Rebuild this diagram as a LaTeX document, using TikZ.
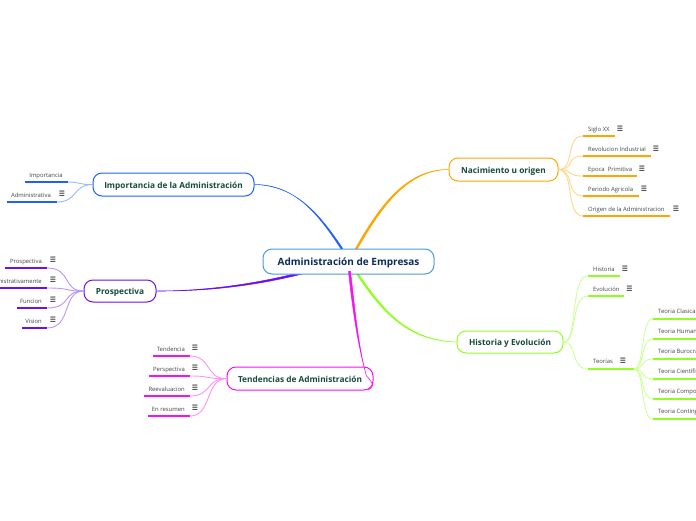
\documentclass[tikz,border=0pt]{standalone}
\usepackage{fontspec}
\usetikzlibrary{backgrounds}
\setmainfont{Open Sans}
\newfontfamily\symfont{DejaVu Sans}
\definecolor{cblue}{HTML}{1F5FFF}
\definecolor{corange}{HTML}{FFA500}
\definecolor{cgreen}{HTML}{90FF20}
\definecolor{cpurple}{HTML}{6A10F0}
\definecolor{cmag}{HTML}{F810F0}
\definecolor{croot}{HTML}{4A9BD9}
\definecolor{ctext}{HTML}{154A3C}
\definecolor{cnavy}{HTML}{0E2A5C}
\definecolor{cgrey}{HTML}{444444}
\tikzset{
 rootbox/.style={draw=#1,line width=1pt,rounded corners=9pt,fill=white,inner sep=0pt,align=center},
 centre/.style={rootbox=#1,text=cnavy,font=\fontsize{10}{12}\selectfont\bfseries},
 branch/.style={rootbox=#1,text=ctext,font=\fontsize{8.3}{10}\selectfont\bfseries},
 leaf/.style={text=cgrey,font=\fontsize{5.9}{7}\selectfont,inner sep=0pt},
 menu/.style={text=cgrey,font=\symfont\fontsize{8}{8}\selectfont,inner sep=0pt,yshift=-0.7pt},
 main/.style={draw=#1,fill=#1,line width=.5pt},
 twig/.style={draw=#1!45!white,line width=0.9pt},
 under/.style={draw=#1,line width=1.5pt},
 thickunder/.style={draw=#1,line width=2pt},
}
\newcommand{\boxnode}[8]{% style colour name x1 y1 x2 y2 text
 \node[#1=#2,minimum width=#6pt-#4pt,minimum height=#7pt-#5pt] (#3) at ({(#4+#6)/2},{(#5+#7)/2}) {\raisebox{-3.5pt}[0pt][0pt]{#8}};}
\newcommand{\menuicon}[3]{\node[menu] (#1) at (#2,#3) {\scalebox{1}[1.5]{≡}};}
% name colour x1 x2 y : underline
\newcommand{\uline}[5]{\coordinate (#1a) at (#3,#5);\coordinate (#1b) at (#4,#5);\draw[under=#2] (#1a) -- (#1b);}
\newcommand{\tline}[5]{\coordinate (#1a) at (#3,#5);\coordinate (#1b) at (#4,#5);\draw[thickunder=#2] (#1a) -- (#1b);}
\begin{document}
\begin{tikzpicture}[x=1pt,y=-1pt]
\useasboundingbox (0,0) rectangle (696,520);
% nodes
\boxnode{centre}{croot}{root}{263}{249}{434}{274}{Administración de Empresas}
\boxnode{branch}{cblue}{imp}{93}{173}{254}{196}{Importancia de la Administración}
\boxnode{branch}{cpurple}{pro}{84}{280}{156}{302}{Prospectiva}
\boxnode{branch}{corange}{nac}{449}{158}{558}{181}{Nacimiento u origen}
\boxnode{branch}{cgreen}{his}{457}{331}{563}{353}{Historia y Evolución}
\boxnode{branch}{cmag}{ten}{227}{367}{373}{390}{Tendencias de Administración}
% root ends of the main connectors
\coordinate (bA) at (343,252);
\coordinate (bB) at (345,252);
\coordinate (oA) at (353.5,252);
\coordinate (oB) at (355.5,252);
\coordinate (gA) at (354.5,271);
\coordinate (gB) at (356.5,271);
\coordinate (pA) at (310,270);
\coordinate (pB) at (310,272);
\coordinate (mA) at (348.5,271);
\coordinate (mB) at (350.5,271);
\coordinate (mEnd) at (366.5,376);
\begin{scope}[on background layer]
\draw[main=cblue] (imp.east) .. controls (295,184.7) and (318,213) .. (bA) -- (bB) .. controls (320,214) and (296,185.5) .. (imp.east);
\draw[main=corange] (nac.west) .. controls (405,169.2) and (378,208) .. (oA) -- (oB) .. controls (380,209) and (406,170) .. (nac.west);
\draw[main=cgreen] (his.west) .. controls (408,341) and (382,313) .. (gA) -- (gB) .. controls (384,312) and (408,340.2) .. (his.west);
\draw[main=cpurple] (pro.east) .. controls (205,291) and (255,284.5) .. (pA) -- (pB) .. controls (255,286.5) and (205,291.3) .. (pro.east);
\end{scope}
\draw[main=cmag] (mA) .. controls (353,315) and (359,350) .. (mEnd) .. controls (359,350) and (355.5,315) .. (mB);
\draw[line width=.6pt,draw=cmag] (mEnd) .. controls (369,378) and (372,383) .. (373,385) .. controls (372,388) and (370,389) .. (368,390);
% left upper leaves
\node[leaf,anchor=mid] (l1) at (46,175) {Importancia};
\uline{u1}{cblue}{25}{68}{182}
\node[leaf,anchor=mid east] (l2) at (51,195) {Administrativa};
\menuicon{m2}{62}{194}
\uline{u2}{cblue}{7}{57}{202}
\draw[twig=cblue] (u1b) .. controls (80,182) and (80,185) .. (imp.west);
\draw[twig=cblue] (u2b) .. controls (78,202) and (72,185) .. (imp.west);
% Prospectiva leaves
\node[leaf,anchor=mid east] (p1) at (42,261) {Prospectiva};
\menuicon{pm1}{53}{260}
\uline{pu1}{cpurple}{5}{47}{268}
\node[leaf,anchor=mid east] (p2) at (42,281) {Administrativamente};
\menuicon{pm2}{53}{280}
\uline{pu2}{cpurple}{-2}{47}{288}
\node[leaf,anchor=mid east] (p3) at (42,301) {Funcion};
\menuicon{pm3}{53}{300}
\uline{pu3}{cpurple}{17}{47}{308}
\node[leaf,anchor=mid east] (p4) at (42,321) {Vision};
\menuicon{pm4}{53}{320}
\uline{pu4}{cpurple}{22}{47}{328}
\foreach \i/\c in {1/268,2/288,3/308,4/328}{
 \draw[twig=cpurple] (pu\i b) .. controls (72,\c) and (62,291) .. (pro.west);
}
% Tendencias leaves
\node[leaf,anchor=mid east] (t1) at (185,349) {Tendencia};
\menuicon{tm1}{195}{348}
\uline{tu1}{cmag}{153}{190}{356}
\node[leaf,anchor=mid east] (t2) at (185,369) {Perspectiva};
\menuicon{tm2}{195}{368}
\uline{tu2}{cmag}{149}{190}{376}
\node[leaf,anchor=mid east] (t3) at (185,389) {Reevaluacion};
\menuicon{tm3}{195}{388}
\uline{tu3}{cmag}{144}{190}{396}
\node[leaf,anchor=mid east] (t4) at (185,409) {En resumen};
\menuicon{tm4}{195}{408}
\uline{tu4}{cmag}{148}{190}{416}
\foreach \i/\c in {1/356,2/376,3/396,4/416}{
 \draw[twig=cmag] (tu\i b) .. controls (212,\c) and (205,379) .. (ten.west);
}
% Nacimiento leaves
\node[leaf,anchor=mid west] (n1) at (588,129) {Siglo XX};
\menuicon{nm1}{620}{128.5}
\uline{nu1}{corange}{583}{615}{136}
\node[leaf,anchor=mid west] (n2) at (588,149) {Revolucion Industrial};
\menuicon{nm2}{656}{148.5}
\uline{nu2}{corange}{583}{651}{156}
\node[leaf,anchor=mid west] (n3) at (588,169) {Epoca \ Primitiva};
\menuicon{nm3}{642}{168.5}
\uline{nu3}{corange}{583}{637}{176}
\node[leaf,anchor=mid west] (n4) at (588,189) {Periodo Agricola};
\menuicon{nm4}{644}{188.5}
\uline{nu4}{corange}{583}{639}{196}
\node[leaf,anchor=mid west] (n5) at (588,209) {Origen de la Administracion};
\menuicon{nm5}{676}{208.5}
\uline{nu5}{corange}{583}{670}{216}
\foreach \i/\c in {1/136,2/156,3/176,4/196,5/216}{
 \draw[twig=corange] (nac.east) .. controls (575,170) and (565,\c) .. (nu\i a);
}
% Historia leaves
\node[leaf,anchor=mid west] (h1) at (593,269) {Historia};
\menuicon{hm1}{625}{268.5}
\uline{hu1}{cgreen}{588}{620}{276}
\node[leaf,anchor=mid west] (h2) at (593,289) {Evolución};
\menuicon{hm2}{629.5}{288.5}
\uline{hu2}{cgreen}{588}{624}{296}
\node[leaf,anchor=mid west] (h3) at (593,361) {Teorías};
\menuicon{hm3}{623}{360.5}
\tline{hu3}{cgreen}{588}{634}{369}
\foreach \i/\c in {1/276,2/296,3/369}{
 \draw[twig=cgreen] (his.east) .. controls (578,342) and (570,\c) .. (hu\i a);
}
\node[leaf,anchor=mid west] (s1) at (658,311) {Teoria Clasica};
\tline{su1}{cgreen}{653}{698}{319}
\node[leaf,anchor=mid west] (s2) at (658,331) {Teoria Humanista};
\tline{su2}{cgreen}{653}{698}{339}
\node[leaf,anchor=mid west] (s3) at (658,351) {Teoria Burocratica};
\tline{su3}{cgreen}{653}{698}{359}
\node[leaf,anchor=mid west] (s4) at (658,371) {Teoria Científica};
\tline{su4}{cgreen}{653}{698}{379}
\node[leaf,anchor=mid west] (s5) at (658,391) {Teoria Comportamiento};
\tline{su5}{cgreen}{653}{698}{399}
\node[leaf,anchor=mid west] (s6) at (658,411) {Teoria Contingencia};
\tline{su6}{cgreen}{653}{698}{419}
\foreach \i/\c in {1/319,2/339,3/359,4/379,5/399,6/419}{
 \draw[twig=cgreen] (hu3b) .. controls (645,369) and (640,\c) .. (su\i a);
}
\end{tikzpicture}
\end{document}
